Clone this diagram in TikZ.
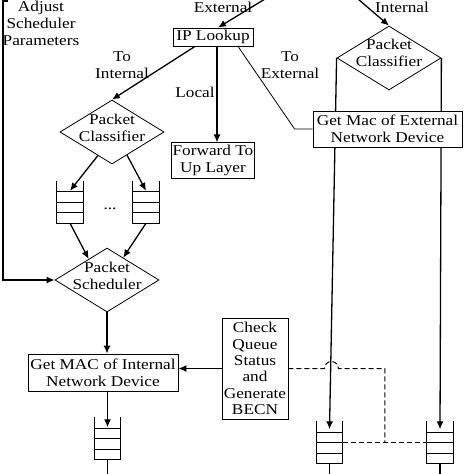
\documentclass[tikz,border=0pt]{standalone}
\usepackage{fontspec}
\setmainfont{Liberation Serif}[FakeStretch=1.15]
\usetikzlibrary{shapes.geometric,positioning,arrows.meta,backgrounds,calc}

\tikzset{
    box/.style={draw, fill=white, inner sep=1pt, align=center, line width=0.8pt},
    dia/.style={draw, fill=white, diamond, inner sep=0pt, minimum width=104pt, minimum height=64pt, line width=0.8pt},
    queue/.style={inner sep=0pt, minimum width=26pt, minimum height=42pt},
    lbl/.style={align=center, inner sep=0pt},
    flow/.style={line width=1.3pt, -{Latex[length=8pt,width=7pt]}},
    thin/.style={line width=0.8pt},
    feedback/.style={line width=1pt, dash pattern=on 5pt off 3pt}
}

\begin{document}
\begin{tikzpicture}[x=1pt, y=-1pt, font=\fontsize{15}{17}\selectfont]
        \useasboundingbox (0,0) rectangle (474,474);
        % boxes and decisions
        \node (ip) [box, minimum width=80pt, minimum height=18pt] at (213,37) {IP Lookup};
        \node (fwd) [box, minimum width=79pt, minimum height=36pt, below=96pt of ip] {Forward To\\Up Layer};
        \node (pc1) [dia, label={[lbl,yshift=4pt]center:Packet\\Classifier}] at (112,132) {};
        \node (pc2) [dia, label={[lbl,yshift=5pt]center:Packet\\Classifier}] at (389,58) {};
        \node (sched) [dia, label={[lbl,yshift=4pt]center:Packet\\Scheduler}] at (107,280) {};
        \node (extmac) [box, minimum width=149pt, minimum height=36pt] at (387.5,129) {Get Mac of External\\Network Device};
        \node (intmac) [box, minimum width=150pt, minimum height=37pt] at (103,372.5) {Get MAC of Internal\\Network Device};
        \node (becn) [box, minimum width=66pt, minimum height=101pt, font=\fontsize{15}{16.3}\selectfont] at (255,368.5) {Check\\Queue\\Status\\and\\Generate\\BECN};
        % queues
        \node (q1) [queue] at (70,202) {};
        \node (q2) [queue] at (146,202) {};
        \node (q0) [queue] at (107.5,438.5) {};
        \node (q3) [queue] at (329.5,442.5) {};
        \node (q4) [queue] at (440,442.5) {};
        \foreach \q in {q0,q1,q2,q3,q4} {
            \draw[thin] (\q.north west) -- (\q.south west) -- (\q.south east) -- (\q.north east);
            \foreach \f in {0.25,0.5,0.75}
                \draw[thin] ($(\q.south west)!\f!(\q.north west)$) -- ($(\q.south east)!\f!(\q.north east)$);
        }
        \node (dots) at (110,209) {...};
        % labels
        \node (adjlbl) [lbl] at (41,23) {Adjust\\Scheduler\\Parameters};
        \node (extlbl) [lbl] at (223,7) {External};
        \node (intlbl) [lbl] at (402,7) {Internal};
        \node (tointlbl) [lbl] at (122,65) {To\\Internal};
        \node (toextlbl) [lbl] at (290,65) {To\\External};
        \node (loclbl) [lbl] at (195,92) {Local};
        % free ends
        \coordinate (extin) at (265,-1);
        \coordinate (intin) at (358,-1);
        \coordinate (adjtop) at (8,1);
        \coordinate (bot) at (0,476);
        % connectors
        \draw[flow] (extin) -- ([xshift=5pt]ip.north);
        \draw[flow] (intin) -- (pc2.north);
        \draw[flow] ([xshift=-18pt]ip.south) -- (pc1.north);
        \draw[flow] ([xshift=4pt]ip.south) -- ([xshift=4pt]fwd.north);
        \draw[thin] ([xshift=25pt]ip.south) -- ([xshift=-18pt]extmac.west) -- (extmac.west);
        \draw[flow] (pc1.239) -- ([yshift=-10pt]q1.north);
        \draw[flow] (pc1.303) -- ([yshift=-10pt]q2.north);
        \draw[flow] (q1.south) -- (sched.131);
        \draw[flow] (q2.south) -- (sched.54);
        \draw[flow] (adjtop) -- ++(-5,0) |- (sched.west);
        \draw[flow] (sched.south) -- (sched.south |- intmac.north);
        \draw[flow] (intmac.south -| q0) -- ([yshift=-10pt]q0.north);
        \draw[flow] (becn.west) -- (becn.west -| intmac.east);
        \begin{scope}[on background layer]
            \draw[flow] (pc2.west) -- ([yshift=-8pt]q3.north);
            \draw[flow] (pc2.east) -- ([yshift=-8pt]q4.north);
        \end{scope}
        \draw[line width=1.3pt] (q0.south) -- (q0.south |- bot);
        \draw[line width=1.3pt] (q3.south) -- (q3.south |- bot);
        \draw[line width=1.3pt] (q4.south) -- (q4.south |- bot);
        % BECN feedback
        \coordinate (jn) at ($(q3.east)!0.5!(q4.west)$);
        \draw[feedback] (becn.east) -- ++(36,0) arc (180:360:7) -- (jn |- becn.east) -- (jn);
        \draw[feedback] (q3.east) -- (q4.west);
    \end{tikzpicture}
\end{document}
